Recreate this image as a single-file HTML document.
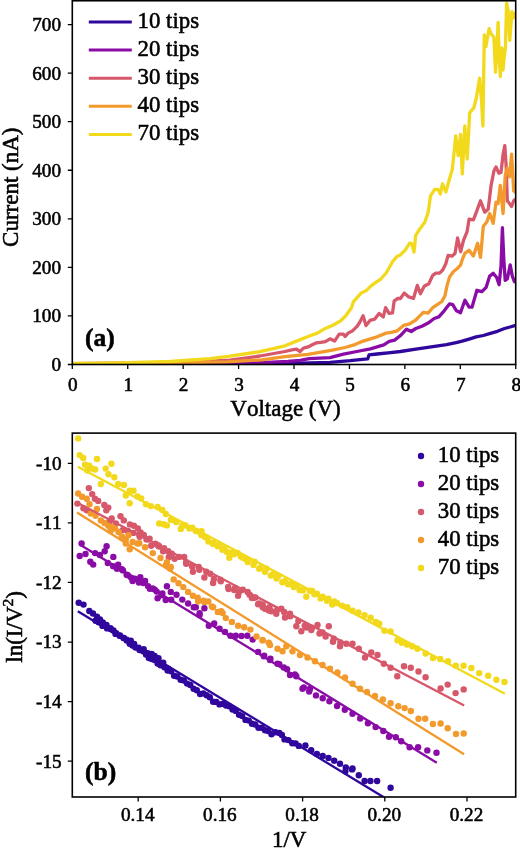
<!DOCTYPE html>
<html><head><meta charset="utf-8"><title>Field emission plots</title>
<style>html,body{margin:0;padding:0;background:#fff;}body{width:520px;height:848px;overflow:hidden;}text{stroke:#000;stroke-width:0.55px;}svg{display:block;font-family:"Liberation Serif","Times New Roman",serif;font-kerning:none;font-feature-settings:"kern" 0;}.tk{font-size:19.2px;fill:#000;}.lab{font-size:23px;fill:#000;}.lg{font-size:22.8px;fill:#000;}.pl{font-size:25.5px;font-weight:bold;fill:#000;}</style></head><body>
<svg width="520" height="848" viewBox="0 0 520 848">
<rect x="0" y="0" width="520" height="848" fill="#fff"/>
<defs><clipPath id="ct"><rect x="72.3" y="0.75" width="443.40000000000003" height="363.75"/></clipPath><clipPath id="cb"><rect x="72.3" y="433.1" width="443.40000000000003" height="363.9"/></clipPath></defs>
<g clip-path="url(#ct)" fill="none" stroke-width="3.3" stroke-linejoin="round" stroke-linecap="round">
<polyline stroke="#30079c" points="72.3,363.6 200.0,363.6 290.0,363.3 330.0,362.3 350.2,360.7 367.7,358.9 369.0,354.9 377.1,354.0 390.6,352.6 400.4,351.5 415.8,349.2 431.2,346.9 446.5,344.6 457.3,342.3 462.1,341.2 469.1,339.1 476.2,336.9 483.3,335.5 490.4,333.4 497.4,331.3 504.5,328.5 510.0,327.0 515.7,325.3"/>
<polyline stroke="#8a0ca6" points="72.3,363.6 200.0,363.4 261.9,362.6 287.9,361.4 300.0,360.3 309.2,358.7 330.0,357.6 343.5,354.2 356.9,351.5 370.4,348.8 383.8,344.8 389.2,341.4 394.6,340.1 400.2,335.8 406.5,329.2 411.2,331.5 415.8,328.5 421.9,326.2 428.1,323.1 434.2,318.5 438.8,316.9 444.2,310.8 449.6,303.8 452.7,304.6 456.5,310.8 460.5,312.8 464.9,300.2 469.1,307.2 472.0,307.2 476.9,290.3 481.9,291.7 486.1,287.4 489.7,276.1 493.2,273.3 496.7,277.5 499.1,284.6 501.0,266.2 502.4,227.7 503.8,259.1 505.2,280.4 507.3,279.0 510.2,264.8 512.3,276.1 514.4,281.8 515.7,280.0"/>
<polyline stroke="#d6586a" points="72.3,363.6 150.0,363.0 200.0,361.6 230.0,360.2 260.0,356.0 285.0,351.5 291.9,349.8 296.5,349.2 300.0,351.5 303.5,348.1 308.1,346.9 312.7,344.6 316.1,342.9 320.8,342.3 325.4,341.7 330.0,338.8 334.6,341.1 339.2,334.2 343.5,334.2 345.2,336.5 348.1,333.1 352.7,330.7 357.3,326.1 360.2,321.5 363.1,315.8 366.0,325.6 370.0,320.4 374.6,319.2 379.2,313.4 383.3,316.9 385.6,307.7 389.0,313.4 392.5,312.9 394.2,300.8 397.7,298.5 400.4,298.5 404.2,293.1 408.8,296.9 413.5,298.5 417.3,285.4 420.4,293.8 424.2,286.2 428.8,283.8 432.7,275.4 435.8,273.1 439.6,273.1 442.7,270.0 445.8,263.8 448.1,255.4 451.9,256.2 455.0,253.5 457.6,238.0 460.7,251.7 463.5,240.4 467.0,231.9 469.1,219.2 473.4,219.9 476.9,210.7 480.5,200.8 484.7,212.1 488.2,209.3 491.1,185.3 493.9,171.1 496.0,166.9 498.8,173.2 501.0,172.5 503.1,154.1 504.8,145.7 506.2,166.9 507.3,200.8 509.5,203.6 511.6,206.5 513.7,200.8 515.7,199.0"/>
<polyline stroke="#f39a2c" points="72.3,363.8 150.0,363.4 227.3,361.9 261.9,359.8 285.0,356.7 308.1,354.4 331.1,350.4 345.0,347.5 355.0,344.6 363.1,341.1 374.6,337.7 386.1,333.1 391.2,332.3 397.3,330.8 403.5,325.4 409.6,323.8 415.8,320.0 418.8,316.9 423.5,312.3 428.1,313.1 432.7,307.7 437.3,304.6 441.9,301.5 445.0,295.4 447.3,284.6 449.6,276.9 453.5,271.5 457.3,268.5 460.4,265.4 462.7,258.5 465.0,253.2 469.1,250.3 473.4,256.0 477.6,243.3 480.5,257.4 483.3,226.3 486.8,222.0 489.7,213.5 493.2,223.4 496.0,202.2 498.1,203.6 500.3,185.3 503.1,213.5 505.2,175.4 507.3,168.3 509.5,176.8 511.6,154.1 513.7,190.9 515.7,192.3"/>
<polyline stroke="#f2d91c" points="72.3,363.5 120.0,362.8 170.0,361.5 210.0,358.6 230.0,356.2 260.0,351.6 285.0,345.8 296.5,341.1 308.1,336.5 317.3,333.1 325.4,328.4 333.4,325.0 340.4,321.0 345.8,315.8 351.5,307.7 353.3,301.9 357.3,297.3 360.8,293.3 366.5,290.4 371.1,285.8 376.9,281.7 380.4,279.5 386.2,273.0 390.0,266.3 392.7,261.5 397.3,256.2 400.0,255.3 405.0,250.4 409.9,242.9 412.0,244.0 414.0,252.0 415.7,235.5 419.8,228.9 424.8,222.3 428.1,212.4 430.5,195.9 434.7,189.3 438.0,189.3 440.4,194.0 442.5,183.8 445.8,192.0 449.1,180.5 452.4,168.9 455.7,135.9 458.2,155.7 460.6,134.3 462.3,173.9 464.8,126.0 467.2,159.0 469.7,112.8 473.8,107.9 476.3,98.0 479.6,78.2 481.5,100.0 482.9,126.0 483.7,74.0 484.3,35.0 485.9,46.7 489.1,28.7 491.2,34.0 493.9,37.2 495.5,72.2 496.4,60.0 498.1,22.3 499.0,50.0 500.3,76.4 501.8,47.8 503.0,70.0 504.0,59.4 505.4,47.6 506.6,3.2 508.2,10.6 509.8,40.3 511.9,11.7 513.5,18.0 514.5,13.6 515.7,14.0"/>
</g>
<rect x="72.3" y="0.75" width="443.4" height="363.75" fill="none" stroke="#000" stroke-width="1.6"/>
<path d="M72.30,364.5V369.0M127.73,364.5V369.0M183.16,364.5V369.0M238.59,364.5V369.0M294.02,364.5V369.0M349.45,364.5V369.0M404.88,364.5V369.0M460.31,364.5V369.0M515.74,364.5V369.0M67.8,364.50H72.3M67.8,315.94H72.3M67.8,267.38H72.3M67.8,218.82H72.3M67.8,170.26H72.3M67.8,121.70H72.3M67.8,73.14H72.3M67.8,24.58H72.3" stroke="#000" stroke-width="1.3" fill="none"/>
<text class="tk" x="72.80" y="390.6" text-anchor="middle">0</text>
<text class="tk" x="128.23" y="390.6" text-anchor="middle">1</text>
<text class="tk" x="183.66" y="390.6" text-anchor="middle">2</text>
<text class="tk" x="239.09" y="390.6" text-anchor="middle">3</text>
<text class="tk" x="294.52" y="390.6" text-anchor="middle">4</text>
<text class="tk" x="349.95" y="390.6" text-anchor="middle">5</text>
<text class="tk" x="405.38" y="390.6" text-anchor="middle">6</text>
<text class="tk" x="460.81" y="390.6" text-anchor="middle">7</text>
<text class="tk" x="516.24" y="390.6" text-anchor="middle">8</text>
<text class="tk" x="61.0" y="370.90" text-anchor="end">0</text>
<text class="tk" x="61.0" y="322.34" text-anchor="end">100</text>
<text class="tk" x="61.0" y="273.78" text-anchor="end">200</text>
<text class="tk" x="61.0" y="225.22" text-anchor="end">300</text>
<text class="tk" x="61.0" y="176.66" text-anchor="end">400</text>
<text class="tk" x="61.0" y="128.10" text-anchor="end">500</text>
<text class="tk" x="61.0" y="79.54" text-anchor="end">600</text>
<text class="tk" x="61.0" y="30.98" text-anchor="end">700</text>
<text class="lab" x="230.3" y="416.3">Voltage (V)</text>
<text class="lab" transform="translate(18.4,187.2) rotate(-90)" text-anchor="middle">Current (nA)</text>
<text class="pl" x="85" y="345.8">(a)</text>
<line x1="88.8" y1="22.00" x2="131.8" y2="22.00" stroke="#30079c" stroke-width="3"/>
<text class="lg" x="137.6" y="28.00">10 tips</text>
<line x1="88.8" y1="50.10" x2="131.8" y2="50.10" stroke="#8a0ca6" stroke-width="3"/>
<text class="lg" x="137.6" y="56.10">20 tips</text>
<line x1="88.8" y1="78.20" x2="131.8" y2="78.20" stroke="#d6586a" stroke-width="3"/>
<text class="lg" x="137.6" y="84.20">30 tips</text>
<line x1="88.8" y1="106.30" x2="131.8" y2="106.30" stroke="#f39a2c" stroke-width="3"/>
<text class="lg" x="137.6" y="112.30">40 tips</text>
<line x1="88.8" y1="134.40" x2="131.8" y2="134.40" stroke="#f2d91c" stroke-width="3"/>
<text class="lg" x="137.6" y="140.40">70 tips</text>
<g clip-path="url(#cb)">
<g fill="#30079c"><circle cx="78.7" cy="602.7" r="3.2"/><circle cx="83.5" cy="604.6" r="3.2"/><circle cx="89.3" cy="611.0" r="3.2"/><circle cx="93.0" cy="613.5" r="3.2"/><circle cx="97.0" cy="616.7" r="3.2"/><circle cx="100.0" cy="619.5" r="3.2"/><circle cx="102.8" cy="622.5" r="3.2"/><circle cx="106.5" cy="625.0" r="3.2"/><circle cx="110.5" cy="628.3" r="3.2"/><circle cx="113.5" cy="630.5" r="3.2"/><circle cx="116.2" cy="633.1" r="3.2"/><circle cx="120.0" cy="635.5" r="3.2"/><circle cx="123.9" cy="637.9" r="3.2"/><circle cx="126.8" cy="640.5" r="3.2"/><circle cx="129.7" cy="643.7" r="3.2"/><circle cx="132.5" cy="645.5" r="3.2"/><circle cx="135.5" cy="647.5" r="3.2"/><circle cx="139.5" cy="650.0" r="3.2"/><circle cx="143.2" cy="651.3" r="3.2"/><circle cx="146.0" cy="654.5" r="3.2"/><circle cx="148.9" cy="658.0" r="3.2"/><circle cx="151.8" cy="659.0" r="3.2"/><circle cx="154.7" cy="660.0" r="3.2"/><circle cx="157.6" cy="663.5" r="3.2"/><circle cx="160.5" cy="665.2" r="3.2"/><circle cx="164.4" cy="667.2" r="3.2"/><circle cx="168.2" cy="669.0" r="3.2"/><circle cx="167.6" cy="670.6" r="3.2"/><circle cx="174.1" cy="675.8" r="3.2"/><circle cx="180.6" cy="679.7" r="3.2"/><circle cx="187.1" cy="683.6" r="3.2"/><circle cx="193.6" cy="688.8" r="3.2"/><circle cx="200.1" cy="694.0" r="3.2"/><circle cx="206.6" cy="695.3" r="3.2"/><circle cx="213.1" cy="701.8" r="3.2"/><circle cx="219.5" cy="704.4" r="3.2"/><circle cx="226.0" cy="705.6" r="3.2"/><circle cx="232.5" cy="709.5" r="3.2"/><circle cx="239.0" cy="714.7" r="3.2"/><circle cx="245.5" cy="719.9" r="3.2"/><circle cx="252.0" cy="723.8" r="3.2"/><circle cx="258.5" cy="727.7" r="3.2"/><circle cx="265.0" cy="730.3" r="3.2"/><circle cx="271.5" cy="734.2" r="3.2"/><circle cx="279.3" cy="732.9" r="3.2"/><circle cx="284.5" cy="739.4" r="3.2"/><circle cx="292.3" cy="743.3" r="3.2"/><circle cx="298.8" cy="745.9" r="3.2"/><circle cx="305.4" cy="745.4" r="3.2"/><circle cx="311.2" cy="750.2" r="3.2"/><circle cx="316.9" cy="754.0" r="3.2"/><circle cx="322.7" cy="756.0" r="3.2"/><circle cx="328.5" cy="757.9" r="3.2"/><circle cx="334.2" cy="760.8" r="3.2"/><circle cx="340.0" cy="763.7" r="3.2"/><circle cx="345.8" cy="767.5" r="3.2"/><circle cx="352.5" cy="768.5" r="3.2"/><circle cx="345.4" cy="771.3" r="3.2"/><circle cx="352.1" cy="769.4" r="3.2"/><circle cx="358.8" cy="775.2" r="3.2"/><circle cx="364.6" cy="781.0" r="3.2"/><circle cx="370.4" cy="781.0" r="3.2"/><circle cx="377.1" cy="781.0" r="3.2"/><circle cx="390.6" cy="787.7" r="3.2"/><circle cx="167.9" cy="668.6" r="3.2"/><circle cx="171.1" cy="671.2" r="3.2"/><circle cx="177.3" cy="676.5" r="3.2"/><circle cx="183.8" cy="680.5" r="3.2"/><circle cx="190.3" cy="685.0" r="3.2"/><circle cx="196.8" cy="690.2" r="3.2"/><circle cx="203.3" cy="693.4" r="3.2"/><circle cx="209.8" cy="697.3" r="3.2"/><circle cx="216.3" cy="701.9" r="3.2"/><circle cx="222.8" cy="703.8" r="3.2"/><circle cx="229.2" cy="706.3" r="3.2"/><circle cx="235.8" cy="710.9" r="3.2"/><circle cx="242.2" cy="716.1" r="3.2"/><circle cx="248.8" cy="720.6" r="3.2"/><circle cx="255.2" cy="724.5" r="3.2"/><circle cx="261.8" cy="727.8" r="3.2"/><circle cx="268.2" cy="731.0" r="3.2"/><circle cx="275.4" cy="732.3" r="3.2"/><circle cx="281.9" cy="734.9" r="3.2"/><circle cx="288.4" cy="740.1" r="3.2"/><circle cx="295.6" cy="743.4" r="3.2"/><circle cx="95.6" cy="620.8" r="3.2"/><circle cx="98.6" cy="622.3" r="3.2"/><circle cx="102.5" cy="625.9" r="3.2"/><circle cx="107.1" cy="628.4" r="3.2"/><circle cx="110.7" cy="629.1" r="3.2"/><circle cx="115.5" cy="633.9" r="3.2"/><circle cx="119.6" cy="635.8" r="3.2"/><circle cx="123.5" cy="638.0" r="3.2"/><circle cx="126.6" cy="639.8" r="3.2"/><circle cx="130.8" cy="640.7" r="3.2"/><circle cx="134.2" cy="643.9" r="3.2"/><circle cx="138.6" cy="647.6" r="3.2"/><circle cx="143.7" cy="649.3" r="3.2"/><circle cx="147.7" cy="653.3" r="3.2"/><circle cx="151.7" cy="653.9" r="3.2"/><circle cx="154.6" cy="655.9" r="3.2"/><circle cx="158.5" cy="658.3" r="3.2"/><circle cx="163.2" cy="662.8" r="3.2"/></g>
<g fill="#8a0ca6"><circle cx="81.6" cy="543.5" r="3.2"/><circle cx="79.7" cy="556.0" r="3.2"/><circle cx="85.5" cy="554.0" r="3.2"/><circle cx="90.3" cy="561.7" r="3.2"/><circle cx="93.2" cy="564.6" r="3.2"/><circle cx="95.1" cy="553.1" r="3.2"/><circle cx="99.9" cy="555.0" r="3.2"/><circle cx="106.6" cy="546.3" r="3.2"/><circle cx="104.7" cy="551.2" r="3.2"/><circle cx="113.3" cy="556.9" r="3.2"/><circle cx="118.2" cy="564.6" r="3.2"/><circle cx="123.0" cy="570.4" r="3.2"/><circle cx="127.8" cy="575.2" r="3.2"/><circle cx="132.6" cy="581.0" r="3.2"/><circle cx="140.3" cy="577.1" r="3.2"/><circle cx="145.1" cy="581.0" r="3.2"/><circle cx="149.9" cy="588.7" r="3.2"/><circle cx="154.7" cy="589.6" r="3.2"/><circle cx="157.6" cy="598.3" r="3.2"/><circle cx="162.4" cy="593.5" r="3.2"/><circle cx="166.9" cy="586.2" r="3.2"/><circle cx="170.8" cy="591.9" r="3.2"/><circle cx="176.5" cy="594.8" r="3.2"/><circle cx="182.3" cy="599.6" r="3.2"/><circle cx="188.1" cy="603.5" r="3.2"/><circle cx="193.8" cy="607.3" r="3.2"/><circle cx="199.6" cy="613.1" r="3.2"/><circle cx="204.4" cy="608.3" r="3.2"/><circle cx="195.8" cy="607.3" r="3.2"/><circle cx="199.6" cy="615.0" r="3.2"/><circle cx="208.8" cy="625.8" r="3.2"/><circle cx="214.2" cy="623.5" r="3.2"/><circle cx="219.6" cy="628.8" r="3.2"/><circle cx="225.0" cy="631.9" r="3.2"/><circle cx="230.4" cy="635.8" r="3.2"/><circle cx="235.8" cy="635.8" r="3.2"/><circle cx="241.5" cy="636.0" r="3.2"/><circle cx="247.3" cy="635.8" r="3.2"/><circle cx="252.7" cy="639.6" r="3.2"/><circle cx="258.1" cy="651.9" r="3.2"/><circle cx="264.2" cy="655.8" r="3.2"/><circle cx="270.4" cy="658.8" r="3.2"/><circle cx="263.8" cy="656.3" r="3.2"/><circle cx="270.0" cy="660.0" r="3.2"/><circle cx="277.5" cy="663.8" r="3.2"/><circle cx="283.8" cy="667.5" r="3.2"/><circle cx="290.0" cy="675.0" r="3.2"/><circle cx="296.3" cy="676.3" r="3.2"/><circle cx="303.8" cy="687.5" r="3.2"/><circle cx="310.0" cy="688.8" r="3.2"/><circle cx="279.3" cy="664.1" r="3.2"/><circle cx="287.1" cy="669.3" r="3.2"/><circle cx="294.9" cy="674.5" r="3.2"/><circle cx="302.5" cy="688.7" r="3.2"/><circle cx="309.2" cy="691.5" r="3.2"/><circle cx="316.0" cy="695.4" r="3.2"/><circle cx="322.7" cy="698.3" r="3.2"/><circle cx="329.4" cy="701.2" r="3.2"/><circle cx="337.1" cy="706.0" r="3.2"/><circle cx="344.8" cy="709.8" r="3.2"/><circle cx="352.5" cy="713.7" r="3.2"/><circle cx="360.2" cy="718.5" r="3.2"/><circle cx="367.9" cy="723.3" r="3.2"/><circle cx="375.6" cy="727.1" r="3.2"/><circle cx="383.3" cy="731.0" r="3.2"/><circle cx="389.0" cy="736.7" r="3.2"/><circle cx="395.8" cy="737.3" r="3.2"/><circle cx="401.2" cy="741.2" r="3.2"/><circle cx="409.6" cy="747.3" r="3.2"/><circle cx="418.1" cy="747.3" r="3.2"/><circle cx="427.3" cy="750.4" r="3.2"/><circle cx="436.5" cy="752.7" r="3.2"/><circle cx="107.8" cy="563.0" r="3.2"/><circle cx="113.2" cy="566.2" r="3.2"/><circle cx="117.0" cy="568.7" r="3.2"/><circle cx="121.8" cy="569.2" r="3.2"/><circle cx="126.6" cy="574.8" r="3.2"/><circle cx="131.1" cy="577.6" r="3.2"/><circle cx="134.8" cy="578.8" r="3.2"/><circle cx="138.9" cy="582.5" r="3.2"/><circle cx="143.3" cy="583.0" r="3.2"/><circle cx="148.0" cy="586.1" r="3.2"/><circle cx="152.7" cy="588.4" r="3.2"/><circle cx="156.7" cy="591.6" r="3.2"/><circle cx="161.4" cy="595.2" r="3.2"/><circle cx="165.7" cy="600.0" r="3.2"/><circle cx="171.2" cy="599.8" r="3.2"/></g>
<g fill="#d6586a"><circle cx="88.8" cy="488.1" r="3.2"/><circle cx="92.2" cy="494.1" r="3.2"/><circle cx="94.9" cy="498.8" r="3.2"/><circle cx="98.2" cy="500.9" r="3.2"/><circle cx="104.3" cy="504.9" r="3.2"/><circle cx="108.3" cy="507.6" r="3.2"/><circle cx="106.3" cy="510.3" r="3.2"/><circle cx="77.4" cy="503.6" r="3.2"/><circle cx="83.4" cy="508.3" r="3.2"/><circle cx="86.8" cy="510.3" r="3.2"/><circle cx="111.7" cy="518.4" r="3.2"/><circle cx="120.5" cy="516.3" r="3.2"/><circle cx="123.8" cy="520.4" r="3.2"/><circle cx="129.9" cy="524.4" r="3.2"/><circle cx="133.9" cy="525.8" r="3.2"/><circle cx="137.9" cy="528.5" r="3.2"/><circle cx="140.6" cy="532.5" r="3.2"/><circle cx="127.8" cy="531.0" r="3.2"/><circle cx="139.3" cy="534.8" r="3.2"/><circle cx="148.9" cy="539.6" r="3.2"/><circle cx="158.5" cy="545.4" r="3.2"/><circle cx="168.2" cy="551.2" r="3.2"/><circle cx="143.8" cy="535.0" r="3.2"/><circle cx="149.6" cy="538.8" r="3.2"/><circle cx="155.4" cy="543.7" r="3.2"/><circle cx="159.2" cy="546.5" r="3.2"/><circle cx="163.1" cy="551.3" r="3.2"/><circle cx="168.8" cy="557.3" r="3.2"/><circle cx="174.6" cy="558.8" r="3.2"/><circle cx="184.2" cy="557.0" r="3.2"/><circle cx="186.2" cy="563.8" r="3.2"/><circle cx="191.9" cy="565.8" r="3.2"/><circle cx="192.9" cy="571.7" r="3.2"/><circle cx="198.7" cy="566.9" r="3.2"/><circle cx="204.4" cy="577.5" r="3.2"/><circle cx="210.2" cy="573.7" r="3.2"/><circle cx="213.1" cy="583.0" r="3.2"/><circle cx="220.8" cy="581.3" r="3.2"/><circle cx="228.5" cy="589.0" r="3.2"/><circle cx="234.2" cy="590.0" r="3.2"/><circle cx="239.0" cy="591.9" r="3.2"/><circle cx="247.7" cy="591.9" r="3.2"/><circle cx="253.5" cy="597.7" r="3.2"/><circle cx="259.2" cy="603.5" r="3.2"/><circle cx="238.1" cy="595.8" r="3.2"/><circle cx="251.9" cy="598.1" r="3.2"/><circle cx="258.1" cy="604.2" r="3.2"/><circle cx="262.7" cy="607.3" r="3.2"/><circle cx="268.8" cy="610.4" r="3.2"/><circle cx="265.0" cy="608.8" r="3.2"/><circle cx="271.3" cy="611.3" r="3.2"/><circle cx="276.3" cy="613.8" r="3.2"/><circle cx="281.3" cy="608.8" r="3.2"/><circle cx="285.0" cy="617.5" r="3.2"/><circle cx="290.0" cy="613.8" r="3.2"/><circle cx="296.3" cy="626.3" r="3.2"/><circle cx="301.3" cy="631.3" r="3.2"/><circle cx="306.3" cy="627.5" r="3.2"/><circle cx="311.3" cy="630.0" r="3.2"/><circle cx="317.5" cy="625.0" r="3.2"/><circle cx="322.5" cy="632.5" r="3.2"/><circle cx="328.8" cy="626.3" r="3.2"/><circle cx="333.8" cy="638.8" r="3.2"/><circle cx="340.0" cy="646.3" r="3.2"/><circle cx="346.3" cy="643.8" r="3.2"/><circle cx="352.5" cy="643.8" r="3.2"/><circle cx="358.8" cy="648.8" r="3.2"/><circle cx="365.0" cy="657.5" r="3.2"/><circle cx="371.3" cy="652.5" r="3.2"/><circle cx="377.5" cy="655.0" r="3.2"/><circle cx="383.8" cy="663.8" r="3.2"/><circle cx="390.6" cy="667.7" r="3.2"/><circle cx="397.3" cy="676.3" r="3.2"/><circle cx="404.0" cy="666.2" r="3.2"/><circle cx="410.8" cy="667.7" r="3.2"/><circle cx="418.5" cy="671.5" r="3.2"/><circle cx="425.6" cy="677.3" r="3.2"/><circle cx="440.6" cy="688.5" r="3.2"/><circle cx="447.7" cy="684.6" r="3.2"/><circle cx="455.6" cy="693.1" r="3.2"/><circle cx="463.7" cy="689.4" r="3.2"/><circle cx="171.7" cy="553.6" r="3.2"/><circle cx="179.2" cy="556.9" r="3.2"/><circle cx="186.1" cy="562.1" r="3.2"/><circle cx="192.3" cy="566.4" r="3.2"/><circle cx="199.3" cy="569.7" r="3.2"/><circle cx="206.3" cy="571.7" r="3.2"/><circle cx="213.9" cy="579.0" r="3.2"/><circle cx="220.4" cy="579.7" r="3.2"/><circle cx="228.2" cy="587.0" r="3.2"/><circle cx="235.1" cy="587.9" r="3.2"/><circle cx="242.8" cy="589.8" r="3.2"/><circle cx="249.6" cy="594.7" r="3.2"/><circle cx="255.4" cy="597.5" r="3.2"/><circle cx="262.7" cy="604.7" r="3.2"/><circle cx="269.5" cy="607.2" r="3.2"/><circle cx="277.2" cy="609.8" r="3.2"/><circle cx="284.1" cy="611.9" r="3.2"/><circle cx="290.3" cy="616.3" r="3.2"/><circle cx="298.3" cy="621.1" r="3.2"/><circle cx="304.7" cy="625.6" r="3.2"/><circle cx="311.9" cy="627.8" r="3.2"/><circle cx="319.5" cy="633.5" r="3.2"/><circle cx="325.6" cy="636.5" r="3.2"/><circle cx="333.0" cy="641.7" r="3.2"/><circle cx="340.4" cy="642.4" r="3.2"/><circle cx="109.6" cy="521.3" r="3.2"/><circle cx="115.8" cy="523.5" r="3.2"/><circle cx="122.6" cy="530.1" r="3.2"/><circle cx="127.9" cy="531.3" r="3.2"/><circle cx="133.3" cy="532.9" r="3.2"/><circle cx="139.7" cy="536.7" r="3.2"/><circle cx="146.5" cy="539.4" r="3.2"/><circle cx="151.2" cy="545.7" r="3.2"/><circle cx="158.0" cy="545.6" r="3.2"/><circle cx="164.1" cy="548.3" r="3.2"/><circle cx="170.0" cy="555.3" r="3.2"/></g>
<g fill="#f39a2c"><circle cx="78.1" cy="493.5" r="3.2"/><circle cx="82.1" cy="496.8" r="3.2"/><circle cx="86.8" cy="498.8" r="3.2"/><circle cx="89.5" cy="504.2" r="3.2"/><circle cx="90.8" cy="513.6" r="3.2"/><circle cx="96.9" cy="508.9" r="3.2"/><circle cx="95.6" cy="515.7" r="3.2"/><circle cx="100.9" cy="520.4" r="3.2"/><circle cx="108.3" cy="525.8" r="3.2"/><circle cx="115.1" cy="528.5" r="3.2"/><circle cx="121.8" cy="536.5" r="3.2"/><circle cx="125.8" cy="539.2" r="3.2"/><circle cx="128.5" cy="535.2" r="3.2"/><circle cx="132.6" cy="541.9" r="3.2"/><circle cx="139.3" cy="543.3" r="3.2"/><circle cx="104.5" cy="523.0" r="3.2"/><circle cx="112.0" cy="527.0" r="3.2"/><circle cx="118.5" cy="532.0" r="3.2"/><circle cx="110.5" cy="531.0" r="3.2"/><circle cx="122.0" cy="537.7" r="3.2"/><circle cx="125.8" cy="543.5" r="3.2"/><circle cx="129.7" cy="549.2" r="3.2"/><circle cx="137.4" cy="543.5" r="3.2"/><circle cx="145.1" cy="547.3" r="3.2"/><circle cx="152.8" cy="553.1" r="3.2"/><circle cx="160.5" cy="557.9" r="3.2"/><circle cx="166.2" cy="564.6" r="3.2"/><circle cx="170.1" cy="568.5" r="3.2"/><circle cx="166.9" cy="562.1" r="3.2"/><circle cx="170.8" cy="566.9" r="3.2"/><circle cx="173.7" cy="579.4" r="3.2"/><circle cx="178.5" cy="583.3" r="3.2"/><circle cx="183.3" cy="587.1" r="3.2"/><circle cx="188.1" cy="591.9" r="3.2"/><circle cx="192.9" cy="595.8" r="3.2"/><circle cx="197.7" cy="597.7" r="3.2"/><circle cx="203.5" cy="600.6" r="3.2"/><circle cx="208.3" cy="601.5" r="3.2"/><circle cx="213.1" cy="607.3" r="3.2"/><circle cx="217.9" cy="612.1" r="3.2"/><circle cx="222.7" cy="613.1" r="3.2"/><circle cx="198.1" cy="601.2" r="3.2"/><circle cx="204.2" cy="601.9" r="3.2"/><circle cx="211.9" cy="606.5" r="3.2"/><circle cx="218.1" cy="611.9" r="3.2"/><circle cx="221.2" cy="611.2" r="3.2"/><circle cx="225.8" cy="618.1" r="3.2"/><circle cx="231.9" cy="621.9" r="3.2"/><circle cx="238.1" cy="625.8" r="3.2"/><circle cx="244.2" cy="627.3" r="3.2"/><circle cx="250.4" cy="629.6" r="3.2"/><circle cx="256.5" cy="636.5" r="3.2"/><circle cx="262.7" cy="640.4" r="3.2"/><circle cx="268.8" cy="642.7" r="3.2"/><circle cx="262.5" cy="640.0" r="3.2"/><circle cx="270.0" cy="645.0" r="3.2"/><circle cx="277.5" cy="648.8" r="3.2"/><circle cx="282.5" cy="651.3" r="3.2"/><circle cx="286.3" cy="646.3" r="3.2"/><circle cx="292.5" cy="651.3" r="3.2"/><circle cx="300.0" cy="655.0" r="3.2"/><circle cx="307.5" cy="657.5" r="3.2"/><circle cx="315.0" cy="661.3" r="3.2"/><circle cx="322.5" cy="665.0" r="3.2"/><circle cx="330.0" cy="668.8" r="3.2"/><circle cx="337.5" cy="672.5" r="3.2"/><circle cx="345.0" cy="677.5" r="3.2"/><circle cx="352.5" cy="683.8" r="3.2"/><circle cx="360.0" cy="688.8" r="3.2"/><circle cx="367.0" cy="692.0" r="3.2"/><circle cx="375.0" cy="696.0" r="3.2"/><circle cx="382.9" cy="699.4" r="3.2"/><circle cx="390.6" cy="703.3" r="3.2"/><circle cx="398.3" cy="706.2" r="3.2"/><circle cx="404.6" cy="708.1" r="3.2"/><circle cx="410.8" cy="711.0" r="3.2"/><circle cx="418.5" cy="718.7" r="3.2"/><circle cx="425.2" cy="718.7" r="3.2"/><circle cx="432.9" cy="724.0" r="3.2"/><circle cx="440.6" cy="723.5" r="3.2"/><circle cx="447.7" cy="728.3" r="3.2"/><circle cx="456.0" cy="734.0" r="3.2"/><circle cx="463.7" cy="733.5" r="3.2"/></g>
<g fill="#f2d91c"><circle cx="78.2" cy="438.4" r="3.2"/><circle cx="79.7" cy="455.1" r="3.2"/><circle cx="83.2" cy="458.0" r="3.2"/><circle cx="97.0" cy="459.0" r="3.2"/><circle cx="85.1" cy="464.7" r="3.2"/><circle cx="89.3" cy="465.7" r="3.2"/><circle cx="92.2" cy="468.6" r="3.2"/><circle cx="95.1" cy="469.5" r="3.2"/><circle cx="87.4" cy="470.5" r="3.2"/><circle cx="111.4" cy="463.8" r="3.2"/><circle cx="105.7" cy="468.6" r="3.2"/><circle cx="108.5" cy="474.3" r="3.2"/><circle cx="114.3" cy="477.2" r="3.2"/><circle cx="100.8" cy="484.0" r="3.2"/><circle cx="118.2" cy="484.0" r="3.2"/><circle cx="123.9" cy="484.9" r="3.2"/><circle cx="129.7" cy="490.7" r="3.2"/><circle cx="133.5" cy="490.7" r="3.2"/><circle cx="125.8" cy="495.5" r="3.2"/><circle cx="137.4" cy="496.5" r="3.2"/><circle cx="141.2" cy="498.4" r="3.2"/><circle cx="129.7" cy="503.2" r="3.2"/><circle cx="146.0" cy="504.2" r="3.2"/><circle cx="150.8" cy="506.1" r="3.2"/><circle cx="157.6" cy="507.0" r="3.2"/><circle cx="162.4" cy="510.0" r="3.2"/><circle cx="159.2" cy="523.5" r="3.2"/><circle cx="163.5" cy="524.3" r="3.2"/><circle cx="166.9" cy="525.4" r="3.2"/><circle cx="171.5" cy="519.7" r="3.2"/><circle cx="176.2" cy="522.0" r="3.2"/><circle cx="180.8" cy="528.9" r="3.2"/><circle cx="185.4" cy="525.4" r="3.2"/><circle cx="192.3" cy="527.7" r="3.2"/><circle cx="197.0" cy="531.2" r="3.2"/><circle cx="201.6" cy="531.2" r="3.2"/><circle cx="205.0" cy="537.0" r="3.2"/><circle cx="208.5" cy="541.6" r="3.2"/><circle cx="213.1" cy="543.9" r="3.2"/><circle cx="217.7" cy="546.2" r="3.2"/><circle cx="222.4" cy="549.7" r="3.2"/><circle cx="227.0" cy="552.0" r="3.2"/><circle cx="229.3" cy="557.8" r="3.2"/><circle cx="233.9" cy="554.3" r="3.2"/><circle cx="240.8" cy="556.6" r="3.2"/><circle cx="245.5" cy="558.9" r="3.2"/><circle cx="247.7" cy="562.1" r="3.2"/><circle cx="253.5" cy="565.0" r="3.2"/><circle cx="259.2" cy="568.8" r="3.2"/><circle cx="265.0" cy="571.7" r="3.2"/><circle cx="270.8" cy="575.6" r="3.2"/><circle cx="276.5" cy="578.5" r="3.2"/><circle cx="282.3" cy="582.3" r="3.2"/><circle cx="288.1" cy="584.2" r="3.2"/><circle cx="293.8" cy="587.1" r="3.2"/><circle cx="299.6" cy="590.0" r="3.2"/><circle cx="306.3" cy="596.7" r="3.2"/><circle cx="312.1" cy="591.0" r="3.2"/><circle cx="316.9" cy="593.8" r="3.2"/><circle cx="322.7" cy="596.7" r="3.2"/><circle cx="328.5" cy="598.7" r="3.2"/><circle cx="334.2" cy="601.5" r="3.2"/><circle cx="336.9" cy="603.0" r="3.2"/><circle cx="342.1" cy="605.6" r="3.2"/><circle cx="347.3" cy="607.3" r="3.2"/><circle cx="352.5" cy="610.8" r="3.2"/><circle cx="358.5" cy="612.5" r="3.2"/><circle cx="364.6" cy="615.1" r="3.2"/><circle cx="370.7" cy="617.7" r="3.2"/><circle cx="375.8" cy="622.0" r="3.2"/><circle cx="379.3" cy="623.7" r="3.2"/><circle cx="384.5" cy="630.7" r="3.2"/><circle cx="390.6" cy="631.5" r="3.2"/><circle cx="397.5" cy="640.2" r="3.2"/><circle cx="401.8" cy="642.8" r="3.2"/><circle cx="407.0" cy="644.5" r="3.2"/><circle cx="412.2" cy="646.2" r="3.2"/><circle cx="417.4" cy="648.8" r="3.2"/><circle cx="425.7" cy="653.5" r="3.2"/><circle cx="433.0" cy="658.0" r="3.2"/><circle cx="440.2" cy="659.0" r="3.2"/><circle cx="448.0" cy="661.3" r="3.2"/><circle cx="455.8" cy="665.8" r="3.2"/><circle cx="463.6" cy="665.8" r="3.2"/><circle cx="471.4" cy="668.0" r="3.2"/><circle cx="479.2" cy="673.1" r="3.2"/><circle cx="488.2" cy="675.8" r="3.2"/><circle cx="496.4" cy="679.8" r="3.2"/><circle cx="504.5" cy="682.0" r="3.2"/><circle cx="165.8" cy="514.0" r="3.2"/><circle cx="170.9" cy="519.8" r="3.2"/><circle cx="176.4" cy="521.9" r="3.2"/><circle cx="182.3" cy="525.8" r="3.2"/><circle cx="189.4" cy="528.6" r="3.2"/><circle cx="195.6" cy="530.7" r="3.2"/><circle cx="201.3" cy="535.1" r="3.2"/><circle cx="207.1" cy="537.7" r="3.2"/><circle cx="213.5" cy="542.8" r="3.2"/><circle cx="219.0" cy="544.9" r="3.2"/><circle cx="224.3" cy="548.2" r="3.2"/><circle cx="231.2" cy="552.6" r="3.2"/><circle cx="237.5" cy="553.0" r="3.2"/><circle cx="242.8" cy="557.7" r="3.2"/><circle cx="248.2" cy="560.0" r="3.2"/><circle cx="254.5" cy="561.8" r="3.2"/><circle cx="260.3" cy="567.6" r="3.2"/><circle cx="266.4" cy="568.7" r="3.2"/><circle cx="272.8" cy="574.4" r="3.2"/><circle cx="278.3" cy="575.9" r="3.2"/><circle cx="285.1" cy="580.9" r="3.2"/><circle cx="291.5" cy="584.0" r="3.2"/><circle cx="296.6" cy="585.4" r="3.2"/><circle cx="302.8" cy="590.4" r="3.2"/><circle cx="309.7" cy="590.7" r="3.2"/><circle cx="314.5" cy="594.2" r="3.2"/><circle cx="320.6" cy="598.4" r="3.2"/><circle cx="327.1" cy="600.7" r="3.2"/><circle cx="332.2" cy="604.5" r="3.2"/></g>
<line x1="77.8" y1="611.3" x2="383.8" y2="797.3" stroke="#30079c" stroke-width="2.3"/>
<line x1="79.7" y1="544.4" x2="436.8" y2="762.7" stroke="#8a0ca6" stroke-width="2.3"/>
<line x1="77.8" y1="503.0" x2="464.2" y2="705.6" stroke="#d6586a" stroke-width="2.3"/>
<line x1="77.0" y1="512.5" x2="464.1" y2="754.3" stroke="#f39a2c" stroke-width="2.3"/>
<line x1="77.8" y1="466.7" x2="504.9" y2="693.7" stroke="#f2d91c" stroke-width="2.3"/>
</g>
<rect x="72.3" y="433.1" width="443.4" height="363.9" fill="none" stroke="#000" stroke-width="1.6"/>
<path d="M138.20,797.0V801.5M220.40,797.0V801.5M302.60,797.0V801.5M384.80,797.0V801.5M467.00,797.0V801.5M67.8,463.30H72.3M67.8,522.88H72.3M67.8,582.46H72.3M67.8,642.04H72.3M67.8,701.62H72.3M67.8,761.20H72.3" stroke="#000" stroke-width="1.3" fill="none"/>
<text class="tk" x="137.70" y="821.3" text-anchor="middle">0.14</text>
<text class="tk" x="219.90" y="821.3" text-anchor="middle">0.16</text>
<text class="tk" x="302.10" y="821.3" text-anchor="middle">0.18</text>
<text class="tk" x="384.30" y="821.3" text-anchor="middle">0.20</text>
<text class="tk" x="466.50" y="821.3" text-anchor="middle">0.22</text>
<text class="tk" x="61.6" y="469.70" text-anchor="end">-10</text>
<text class="tk" x="61.6" y="529.28" text-anchor="end">-11</text>
<text class="tk" x="61.6" y="588.86" text-anchor="end">-12</text>
<text class="tk" x="61.6" y="648.44" text-anchor="end">-13</text>
<text class="tk" x="61.6" y="708.02" text-anchor="end">-14</text>
<text class="tk" x="61.6" y="767.60" text-anchor="end">-15</text>
<text class="lab" x="271.9" y="846.6">1/V</text>
<text class="lab" transform="translate(21.6,626.9) rotate(-90)" text-anchor="middle">ln(I/V<tspan font-size="15.5px" dy="-8.5">2</tspan><tspan dy="8.5">)</tspan></text>
<text class="pl" x="85" y="780.2">(b)</text>
<circle cx="421.0" cy="456.00" r="3.2" fill="#30079c"/>
<text class="lg" x="437.8" y="461.70">10 tips</text>
<circle cx="421.0" cy="484.00" r="3.2" fill="#8a0ca6"/>
<text class="lg" x="437.8" y="489.70">20 tips</text>
<circle cx="421.0" cy="512.00" r="3.2" fill="#d6586a"/>
<text class="lg" x="437.8" y="517.70">30 tips</text>
<circle cx="421.0" cy="540.00" r="3.2" fill="#f39a2c"/>
<text class="lg" x="437.8" y="545.70">40 tips</text>
<circle cx="421.0" cy="568.00" r="3.2" fill="#f2d91c"/>
<text class="lg" x="437.8" y="573.70">70 tips</text>
</svg></body></html>
